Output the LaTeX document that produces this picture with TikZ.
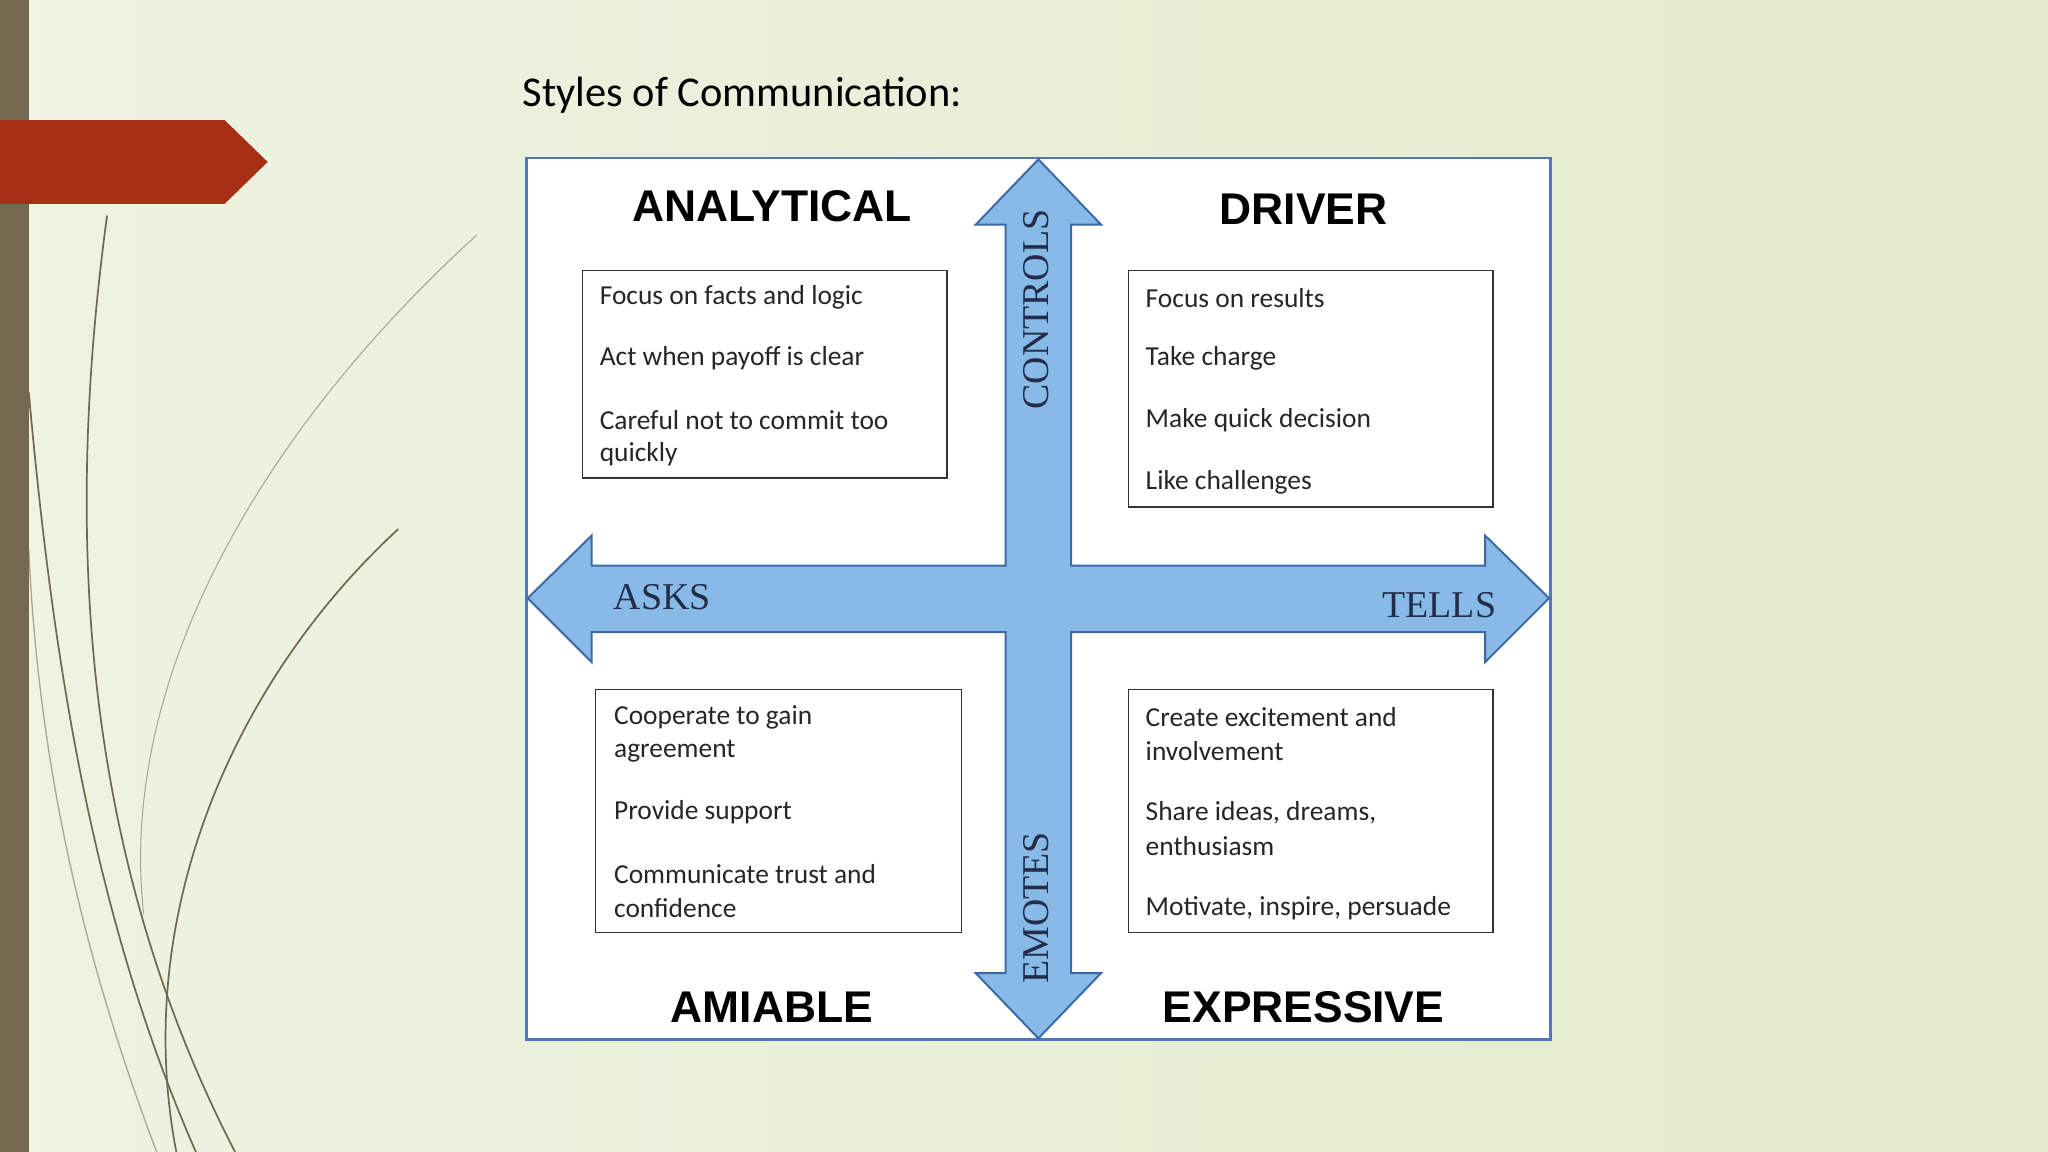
\documentclass[tikz,border=0pt]{standalone}
\usepackage{fontspec}
\setmainfont{Carlito}
\newfontfamily\headfont{Liberation Sans}
\newfontfamily\serifl{Liberation Serif}
\definecolor{bgl}{RGB}{238,243,226}
\definecolor{bgr}{RGB}{226,235,203}
\definecolor{barc}{RGB}{117,106,80}
\definecolor{tabc}{RGB}{166,47,21}
\definecolor{linec}{RGB}{112,104,78}
\definecolor{frame}{RGB}{80,120,185}
\definecolor{arrfill}{RGB}{135,186,230}
\definecolor{arrdraw}{RGB}{60,105,165}
\definecolor{labc}{RGB}{35,45,75}
\tikzset{
 heading/.style={font=\headfont\bfseries\fontsize{34}{37}\selectfont, text=black},
 itembox/.style={draw=black!80, line width=1.2pt, fill=white},
 item/.style={anchor=west, font=\fontsize{21}{24}\selectfont, text=black!85, inner sep=0pt},
 axis/.style={font=\serifl\fontsize{29}{32}\selectfont, text=labc}
}
\begin{document}
\begin{tikzpicture}[x=1pt,y=-1pt]
\useasboundingbox (0,0) rectangle (1568,882);
\shade[left color=bgl,right color=bgr] (0,0) rectangle (1568,882);
% curves
\draw[linec,line width=1.3pt] (82,165) .. controls (50,400) and (60,650) .. (180,882);
\draw[linec!60,line width=0.8pt] (365,180) .. controls (200,330) and (90,520) .. (110,700);
\draw[linec,line width=1.3pt] (305,405) .. controls (180,520) and (100,700) .. (135,882);
\draw[linec,line width=1.3pt] (22,300) .. controls (40,500) and (70,700) .. (150,882);
\draw[linec!60,line width=1pt] (22,420) .. controls (30,600) and (70,750) .. (120,882);
\fill[barc] (0,0) rectangle (22,882);
\fill[tabc] (0,92) -- (172,92) -- (205,124) -- (172,156) -- (0,156) -- cycle;
\node[anchor=west, font=\fontsize{32.5}{35}\selectfont, text=black, inner sep=0pt] (title) at (400,73) {Styles of Communication:};
% main box
\draw[frame, line width=2pt, fill=white] (403,121) rectangle (1187,796);
% cross arrow
\draw[arrdraw, line width=1.5pt, fill=arrfill, line join=miter]
 (795,122) -- (843,172) -- (820,172) -- (820,433) -- (1137,433) -- (1137,410) -- (1186,458)
 -- (1137,507) -- (1137,484) -- (820,484) -- (820,745) -- (843,745) -- (795,795)
 -- (747,745) -- (770,745) -- (770,484) -- (453,484) -- (453,507) -- (404,458)
 -- (453,410) -- (453,433) -- (770,433) -- (770,172) -- (747,172) -- cycle;
\node[axis, rotate=90] (controls) at (793,237) {CONTROLS};
\node[axis, rotate=90] (emotes) at (793,695) {EMOTES};
\node[axis] (asks) at (507,457) {ASKS};
\node[axis] (tells) at (1102,463) {TELLS};
% headings
\node[heading] (analytical) at (591,158) {ANALYTICAL};
\node[heading] (driver) at (998,160) {DRIVER};
\node[heading] (amiable) at (591,771) {AMIABLE};
\node[heading] (expressive) at (998,771) {EXPRESSIVE};
% boxes
\draw[itembox] (446,207) rectangle (725,366);
\node[item] (a1) at (459,228) {Focus on facts and logic};
\node[item] (a2) at (459,274) {Act when payoff is clear};
\node[item] (a3) at (459,322) {Careful not to commit too};
\node[item] (a4) at (459,348) {quickly};
\draw[itembox] (864,207) rectangle (1143,388);
\node[item] (d1) at (877,228) {Focus on results};
\node[item] (d2) at (877,274) {Take charge};
\node[item] (d3) at (877,322) {Make quick decision};
\node[item] (d4) at (877,369) {Like challenges};
\draw[itembox] (456,528) rectangle (736,714);
\node[item] (m1) at (470,549) {Cooperate to gain};
\node[item] (m2) at (470,575) {agreement};
\node[item] (m3) at (470,622) {Provide support};
\node[item] (m4) at (470,669) {Communicate trust and};
\node[item] (m5) at (470,695) {confidence};
\draw[itembox] (864,528) rectangle (1143,714);
\node[item] (e1) at (877,549) {Create excitement and};
\node[item] (e2) at (877,575) {involvement};
\node[item] (e3) at (877,622) {Share ideas, dreams,};
\node[item] (e4) at (877,648) {enthusiasm};
\node[item] (e5) at (877,695) {Motivate, inspire, persuade};
\end{tikzpicture}
\end{document}
